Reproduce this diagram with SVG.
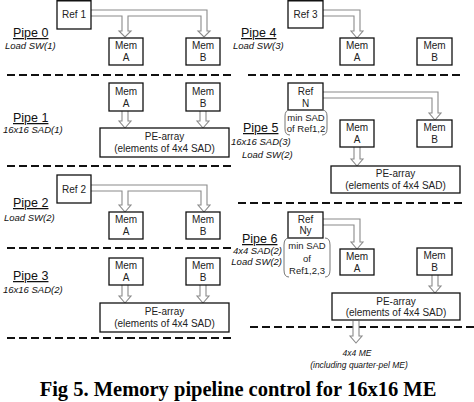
<svg xmlns="http://www.w3.org/2000/svg" width="474" height="402" viewBox="0 0 474 402">
<style>
.box{fill:#fff;stroke:#111;stroke-width:1.3}
.t{font-family:"Liberation Sans",Arial,sans-serif;font-size:10px;fill:#222;text-anchor:middle}
.pipe{font-family:"Liberation Sans",Arial,sans-serif;font-size:12.5px;fill:#111;text-decoration:underline}
.op{font-family:"Liberation Sans",Arial,sans-serif;font-size:9.5px;font-style:italic;fill:#111}
.sm{font-family:"Liberation Sans",Arial,sans-serif;font-size:8.5px;font-style:italic;fill:#111;text-anchor:middle}
.arr{fill:#fff;stroke:#8a8a8a;stroke-width:1.1;stroke-linejoin:miter}
.dash{stroke:#111;stroke-width:2;stroke-dasharray:8 4;fill:none}
.br{fill:none;stroke:#777;stroke-width:1}
.cap{font-family:"Liberation Serif","Times New Roman",serif;font-size:20.5px;font-weight:bold;fill:#000;text-anchor:middle}
</style>
<rect width="474" height="402" fill="#fff"/>

<g id="separators">
<line class="dash" x1="7" y1="75" x2="232" y2="75"/>
<line class="dash" x1="7" y1="166" x2="232" y2="166"/>
<line class="dash" x1="7" y1="248" x2="232" y2="248"/>
<line class="dash" x1="7" y1="338" x2="232" y2="338"/>
<line class="dash" x1="248" y1="75" x2="462" y2="75"/>
<line class="dash" x1="238" y1="203" x2="462" y2="203"/>
<line class="dash" x1="250" y1="327" x2="474" y2="327"/>
</g>

<g id="connectors">
<path class="arr" d="M91,10 H207 V31 H210 L204,37 L198,31 H201 V16 H128 V31 H131 L125,37 L119,31 H122 V16 H91"/>
<path class="arr" d="M122,111 V121 H119 L125,128 L131,121 H128 V111"/>
<path class="arr" d="M200,111 V121 H197 L203,128 L209,121 H206 V111"/>
<path class="arr" d="M91,185 H207 V205 H210 L204,212 L198,205 H201 V191 H128 V205 H131 L125,212 L119,205 H122 V191 H91"/>
<path class="arr" d="M122,285 V296 H119 L125,303 L131,296 H128 V285"/>
<path class="arr" d="M200,285 V296 H197 L203,303 L209,296 H206 V285"/>
<path class="arr" d="M323,10 H360 V31 H363 L357,38 L351,31 H354 V16 H323"/>
<path class="arr" d="M323,92 H438 V113 H441 L435,120 L429,113 H432 V98 H323"/>
<path class="arr" d="M354,147 V159 H351 L357,166 L363,159 H360 V147"/>
<path class="arr" d="M323,219 H360 V242 H363 L357,249 L351,242 H354 V225 H323"/>
<path class="arr" d="M432,275 V286 H429 L435,293 L441,286 H438 V275"/>
<path class="arr" d="M353,321 V336 H350 L356,343 L362,336 H359 V321"/>
</g>

<g id="pipe0">
<text class="pipe" x="13" y="37">Pipe 0</text>
<text class="op" x="5" y="49">Load SW(1)</text>
</g>
<g id="ref1"><rect class="box" x="57" y="-2" width="34" height="31"/><line x1="57" y1="0.5" x2="91" y2="0.5" stroke="#111" stroke-width="2"/><text class="t" x="74" y="18">Ref 1</text></g>
<g id="memA0"><rect class="box" x="109" y="38" width="34" height="27"/><text class="t" x="126" y="49">Mem</text><text class="t" x="126" y="61">A</text></g>
<g id="memB0"><rect class="box" x="186" y="38" width="34" height="27"/><text class="t" x="203" y="49">Mem</text><text class="t" x="203" y="61">B</text></g>

<g id="pipe1">
<text class="pipe" x="13" y="122">Pipe 1</text>
<text class="op" x="3" y="133">16x16 SAD(1)</text>
</g>
<g id="memA1"><rect class="box" x="109" y="83" width="34" height="28"/><text class="t" x="126" y="95">Mem</text><text class="t" x="126" y="107">A</text></g>
<g id="memB1"><rect class="box" x="186" y="83" width="34" height="28"/><text class="t" x="203" y="95">Mem</text><text class="t" x="203" y="107">B</text></g>
<g id="pe1"><rect class="box" x="100" y="128" width="129" height="29"/><text class="t" x="164.5" y="140">PE-array</text><text class="t" x="164.5" y="152">(elements of 4x4 SAD)</text></g>

<g id="pipe2">
<text class="pipe" x="13" y="207">Pipe 2</text>
<text class="op" x="4" y="221">Load SW(2)</text>
</g>
<g id="ref2"><rect class="box" x="57" y="175" width="34" height="28"/><text class="t" x="74" y="193">Ref 2</text></g>
<g id="memA2"><rect class="box" x="109" y="212" width="34" height="27"/><text class="t" x="126" y="223">Mem</text><text class="t" x="126" y="235">A</text></g>
<g id="memB2"><rect class="box" x="186" y="212" width="34" height="27"/><text class="t" x="203" y="223">Mem</text><text class="t" x="203" y="235">B</text></g>

<g id="pipe3">
<text class="pipe" x="13" y="280">Pipe 3</text>
<text class="op" x="3" y="293">16x16 SAD(2)</text>
</g>
<g id="memA3"><rect class="box" x="109" y="258" width="34" height="27"/><text class="t" x="126" y="269">Mem</text><text class="t" x="126" y="281">A</text></g>
<g id="memB3"><rect class="box" x="186" y="258" width="34" height="27"/><text class="t" x="203" y="269">Mem</text><text class="t" x="203" y="281">B</text></g>
<g id="pe3"><rect class="box" x="100" y="303" width="129" height="29"/><text class="t" x="164.5" y="315">PE-array</text><text class="t" x="164.5" y="327">(elements of 4x4 SAD)</text></g>

<g id="pipe4">
<text class="pipe" x="241" y="37">Pipe 4</text>
<text class="op" x="233" y="49">Load SW(3)</text>
</g>
<g id="ref3"><rect class="box" x="288" y="-2" width="35" height="30"/><line x1="288" y1="0.5" x2="323" y2="0.5" stroke="#111" stroke-width="2"/><text class="t" x="305.5" y="18">Ref 3</text></g>
<g id="memA4"><rect class="box" x="340" y="38" width="34" height="27"/><text class="t" x="357" y="49">Mem</text><text class="t" x="357" y="61">A</text></g>
<g id="memB4"><rect class="box" x="417" y="38" width="35" height="27"/><text class="t" x="434.5" y="49">Mem</text><text class="t" x="434.5" y="61">B</text></g>

<g id="pipe5">
<text class="pipe" x="243" y="132">Pipe 5</text>
<text class="op" x="231" y="145">16x16 SAD(3)</text>
<text class="op" x="242" y="158">Load SW(2)</text>
</g>
<g id="refN"><rect class="box" x="288" y="83" width="35" height="27"/><text class="t" x="305.5" y="95">Ref</text><text class="t" x="305.5" y="107">N</text></g>
<g id="minSAD5"><path class="br" d="M290,110 Q285,110 285,116 V129 Q285,135 290,135"/><path class="br" d="M322,110 Q327,110 327,116 V129 Q327,135 322,135"/><text class="t" x="306" y="121" style="font-size:9.5px">min SAD</text><text class="t" x="306" y="132" style="font-size:9.5px">of Ref1,2</text></g>
<g id="memA5"><rect class="box" x="340" y="120" width="34" height="27"/><text class="t" x="357" y="131">Mem</text><text class="t" x="357" y="143">A</text></g>
<g id="memB5"><rect class="box" x="417" y="120" width="35" height="27"/><text class="t" x="434.5" y="131">Mem</text><text class="t" x="434.5" y="143">B</text></g>
<g id="pe5"><rect class="box" x="331" y="166" width="129" height="27"/><text class="t" x="395.5" y="177">PE-array</text><text class="t" x="395.5" y="189">(elements of 4x4 SAD)</text></g>

<g id="pipe6">
<text class="pipe" x="242" y="243">Pipe 6</text>
<text class="op" x="282" y="254" text-anchor="end">4x4 SAD(2)</text>
<text class="op" x="282" y="265" text-anchor="end">Load SW(2)</text>
</g>
<g id="refNy"><rect class="box" x="288" y="212" width="35" height="26"/><text class="t" x="305.5" y="223">Ref</text><text class="t" x="305.5" y="234">Ny</text></g>
<g id="minSAD6"><path class="br" d="M289,238 Q284,238 284,245 V270 Q284,277 289,277"/><path class="br" d="M325,238 Q330,238 330,245 V270 Q330,277 325,277"/><text class="t" x="307" y="249" style="font-size:9.5px">min SAD</text><text class="t" x="307" y="262" style="font-size:9.5px">of</text><text class="t" x="307" y="274" style="font-size:9.5px">Ref1,2,3</text></g>
<g id="memA6"><rect class="box" x="340" y="249" width="34" height="26"/><text class="t" x="357" y="260">Mem</text><text class="t" x="357" y="272">A</text></g>
<g id="memB6"><rect class="box" x="417" y="248" width="35" height="27"/><text class="t" x="434.5" y="259">Mem</text><text class="t" x="434.5" y="271">B</text></g>
<g id="pe6"><rect class="box" x="332" y="293" width="128" height="27"/><text class="t" x="396" y="305">PE-array</text><text class="t" x="396" y="316">(elements of 4x4 SAD)</text></g>

<g id="me4x4">
<text class="sm" x="357" y="356">4x4 ME</text>
<text class="sm" x="359" y="368">(including quarter-pel ME)</text>
</g>

<text class="cap" x="238" y="396">Fig 5. Memory pipeline control for 16x16 ME</text>
</svg>
